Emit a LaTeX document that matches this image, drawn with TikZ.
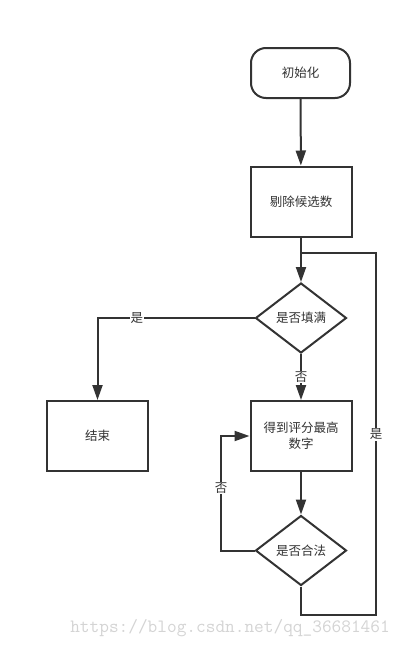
\documentclass[tikz,border=0pt]{standalone}
\usepackage{fontspec}
\newfontfamily\cjk{Noto Sans CJK SC}
\usetikzlibrary{shapes.geometric,arrows.meta}
\definecolor{ink}{HTML}{333333}
\definecolor{mark}{HTML}{D4D4D4}
\tikzset{
  base/.style={draw=ink,line width=2pt,text=ink,font=\cjk\fontsize{12.5}{16}\selectfont,align=center},
  term/.style={base,rectangle,rounded corners=15pt,minimum width=99pt,minimum height=50pt},
  proc/.style={base,rectangle,minimum width=101pt,minimum height=70pt},
  decide/.style={base,diamond,inner sep=0pt,minimum width=91pt,minimum height=70pt},
  arr/.style={draw=ink,line width=2pt,-{Triangle[length=15pt,width=10pt]}},
  line/.style={draw=ink,line width=2pt},
  lbl/.style={fill=white,text=ink,inner sep=1pt,font=\cjk\fontsize{12.5}{15}\selectfont}
}
\begin{document}
\begin{tikzpicture}[x=1pt,y=-1pt]
	\useasboundingbox[fill=white] (0,0) rectangle (408,648);
	\node[term] (init) at (300.5,73) {初始化};
	\node[proc] (remove) at (301,201.5) {剔除候选数};
	\node[decide] (full) at (301,318) {是否填满};
	\node[proc] (finish) at (97.5,436) {结束};
	\node[proc] (best) at (301,436) {得到评分最高\\数字};
	\node[decide] (legal) at (301,550.5) {是否合法};
	\coordinate (join) at (301,253);
	\coordinate (noL) at (221,436);
	\coordinate (botR) at (376,615);
	\draw[arr] (init) -- (remove);
	\draw[arr] (remove) -- (full);
	\draw[arr] (full.west) -| node[lbl,pos=0.375]{是} (finish.north);
	\draw[arr] (full.south) -- node[lbl]{否} (best.north);
	\draw[arr] (best) -- (legal);
	\draw[arr] (legal.west) -| (noL) -- (best.west);
	\node[lbl] (noText) at (221,488) {否};
	\draw[line] (legal.south) |- (botR) -- node[lbl]{是} (botR |- join) -- (join);
	\node[text=mark,font=\ttfamily\fontsize{18.8}{20}\selectfont] (url) at (230,628) {https://blog.csdn.net/qq\_36681461};
\end{tikzpicture}
\end{document}
